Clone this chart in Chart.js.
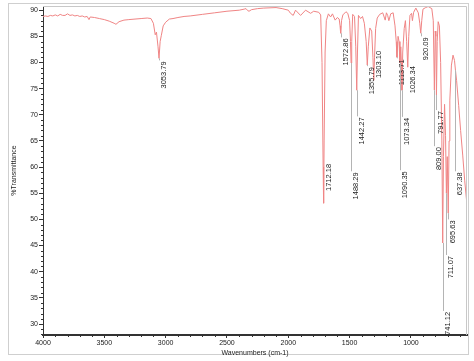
<!DOCTYPE html>
<html>
<head>
<meta charset="utf-8">
<script src="https://cdn.jsdelivr.net/npm/chart.js@4.4.1/dist/chart.umd.min.js"></script>
<style>
  html, body { margin: 0; padding: 0; background: #fff; }
</style>
</head>
<body>
<canvas id="irChart" width="474" height="361"></canvas>
<script>
// spectrum (wavenumber cm-1, %T)
const wavenumbers = [4000, 3980, 3960, 3940, 3920, 3900, 3880, 3860, 3840, 3820, 3800, 3780, 3760, 3740, 3720, 3700, 3680, 3660, 3640, 3625, 3615, 3580, 3540, 3500, 3460, 3420, 3405, 3380, 3340, 3300, 3250, 3200, 3150, 3120, 3100, 3085, 3075, 3062, 3054, 3045, 3035, 3020, 3000, 2970, 2940, 2900, 2850, 2800, 2700, 2600, 2500, 2400, 2360, 2345, 2330, 2320, 2300, 2250, 2200, 2100, 2050, 2000, 1982, 1960, 1941, 1900, 1859, 1818, 1793, 1752, 1736, 1725, 1716, 1712, 1708, 1700, 1690, 1673, 1655, 1640, 1618, 1600, 1585, 1578, 1573, 1566, 1555, 1530, 1515, 1500, 1493, 1488, 1483, 1475, 1460, 1450, 1442, 1436, 1428, 1410, 1395, 1380, 1365, 1356, 1348, 1335, 1320, 1310, 1303, 1297, 1288, 1275, 1255, 1230, 1210, 1200, 1190, 1180, 1165, 1145, 1130, 1120, 1114, 1105, 1097, 1090, 1083, 1078, 1073, 1067, 1055, 1045, 1035, 1026, 1018, 1008, 995, 988, 978, 960, 940, 928, 920, 912, 902, 880, 860, 845, 830, 818, 809, 802, 797, 792, 786, 778, 768, 758, 748, 741, 735, 726, 718, 711, 704, 696, 689, 683, 670, 657, 645, 637, 628, 611, 595, 578, 562, 543];
const transmittance = [88.8, 88.9, 88.8, 89.0, 88.9, 89.1, 88.9, 89.2, 89.0, 89.0, 89.3, 89.0, 89.1, 88.9, 89.0, 88.8, 88.9, 88.7, 88.8, 88.2, 88.7, 88.6, 88.4, 88.2, 87.9, 87.5, 87.3, 87.8, 88.1, 88.2, 88.3, 88.4, 88.5, 88.4, 87.5, 85.3, 85.8, 83.0, 80.8, 84.0, 85.2, 87.0, 87.7, 88.3, 88.4, 88.6, 88.8, 88.9, 89.2, 89.5, 89.8, 90.0, 90.2, 90.3, 89.9, 89.8, 90.1, 90.3, 90.4, 90.5, 90.3, 90.0, 89.4, 89.0, 90.0, 89.0, 90.0, 89.4, 89.8, 89.6, 89.1, 80.0, 60.0, 53.1, 65.0, 82.0, 88.0, 89.3, 88.7, 89.3, 88.1, 88.6, 88.3, 87.0, 85.6, 88.0, 89.1, 89.7, 89.4, 88.0, 84.0, 79.9, 84.0, 89.2, 88.8, 83.0, 74.7, 82.0, 89.0, 88.4, 88.8, 87.5, 84.0, 79.5, 83.0, 86.6, 86.0, 81.0, 76.6, 81.0, 86.5, 88.5, 89.2, 89.5, 88.1, 89.5, 89.0, 88.0, 89.3, 89.5, 87.0, 84.0, 81.0, 85.0, 84.0, 79.9, 83.0, 80.0, 74.7, 82.0, 86.5, 88.0, 84.0, 79.1, 85.0, 89.0, 89.4, 88.0, 89.6, 90.4, 89.5, 87.5, 85.6, 88.0, 90.2, 90.5, 90.7, 90.5, 90.3, 88.0, 74.7, 86.0, 85.0, 73.8, 84.0, 87.8, 87.0, 80.0, 65.0, 45.5, 62.0, 72.0, 66.0, 55.0, 62.0, 51.2, 65.0, 72.8, 79.5, 81.4, 80.4, 78.5, 76.6, 71.8, 67.0, 62.3, 57.5, 52.7];

// peak labels: position, depth of the peak, level where the label starts
const peakWn = [3053.79, 1712.18, 1572.86, 1488.29, 1442.27, 1355.79, 1303.10, 1113.71, 1090.35, 1073.34, 1026.34, 920.09, 809.00, 791.77, 741.12, 711.07, 695.63, 637.38];
const peakT = [80.8, 53.1, 85.6, 79.9, 74.7, 79.5, 76.6, 81.0, 79.9, 74.7, 79.1, 85.6, 74.7, 73.8, 45.5, 55.0, 51.2, 78.5];
const labelT = [80.4, 60.8, 84.8, 59.2, 69.7, 79.3, 82.4, 80.8, 59.4, 69.6, 79.5, 85.0, 64.0, 70.9, 32.5, 43.2, 50.0, 59.2];

// axis ticks
const xTicks = [4000, 3500, 3000, 2500, 2000, 1500, 1000];
const yTicks = [30, 35, 40, 45, 50, 55, 60, 65, 70, 75, 80, 85, 90];

const FONT = '"Liberation Sans", Arial, sans-serif';

const spectrumDecor = {
    id: 'spectrumDecor',
    beforeDraw(chart) {
        const c = chart.ctx;
        c.save();
        c.fillStyle = '#fff';
        c.fillRect(0, 0, chart.width, chart.height);
        c.strokeStyle = '#cfcfcf';
        c.lineWidth = 1;
        c.strokeRect(8.5, 3.5, 460, 351);
        c.restore();
    },
    afterDraw(chart) {
        const c = chart.ctx;
        const a = chart.chartArea;
        const x = chart.scales.x, y = chart.scales.y;
        c.save();
        // thin grey frame on top and right of the plot
        c.strokeStyle = '#c8c8c8';
        c.lineWidth = 1;
        c.beginPath();
        c.moveTo(a.left, a.top + 0.5);
        c.lineTo(a.right - 0.5, a.top + 0.5);
        c.lineTo(a.right - 0.5, a.bottom);
        c.stroke();

        // minor ticks
        c.strokeStyle = '#333';
        c.beginPath();
        for (let v = 28; v <= 90; v++) {
            if (v % 5 === 0) continue;
            const py = Math.round(y.getPixelForValue(v)) + 0.5;
            c.moveTo(a.left - 2, py);
            c.lineTo(a.left, py);
        }
        for (let v = 600; v <= 4000; v += 100) {
            if (v % 500 === 0) continue;
            const px = Math.round(x.getPixelForValue(v)) + 0.5;
            c.moveTo(px, a.bottom);
            c.lineTo(px, a.bottom + 2);
        }
        c.stroke();

        // peak labels with leader lines
        c.font = '7.5px ' + FONT;
        c.textAlign = 'right';
        c.textBaseline = 'middle';
        peakWn.forEach((wn, i) => {
            const px = Math.round(x.getPixelForValue(wn)) + 0.5;
            const top = y.getPixelForValue(labelT[i]);
            const bot = y.getPixelForValue(peakT[i]);
            if (top - bot > 1) {
                c.strokeStyle = '#b4b4b4';
                c.beginPath();
                c.moveTo(px, bot);
                c.lineTo(px, top);
                c.stroke();
            }
            c.save();
            c.translate(px + 4.5, top + 1);
            c.rotate(-Math.PI / 2);
            c.fillStyle = '#222';
            c.fillText(wn.toFixed(2), 0, 0);
            c.restore();
        });
        c.restore();
    }
};

const ctx = document.getElementById('irChart').getContext('2d');
new Chart(ctx, {
    type: 'line',
    data: {
        datasets: [{
            data: wavenumbers.map((w, i) => ({ x: w, y: transmittance[i] })),
            borderColor: '#f08585',
            borderWidth: 1,
            pointRadius: 0,
            tension: 0,
            fill: false
        }]
    },
    options: {
        responsive: false,
        animation: false,
        layout: {
            padding: { left: 8, right: 7, top: 6, bottom: 2 }
        },
        scales: {
            x: {
                type: 'linear',
                reverse: true,
                min: 543,
                max: 4000,
                afterFit: s => { s.height = 24; },
                afterBuildTicks: s => { s.ticks = xTicks.map(v => ({ value: v })); },
                ticks: {
                    autoSkip: false,
                    maxRotation: 0,
                    padding: 1,
                    color: '#222',
                    font: { family: FONT, size: 7 },
                    callback: v => String(v)
                },
                grid: { drawOnChartArea: false, tickLength: 3, tickColor: '#333' },
                border: { color: '#333', width: 2 },
                title: {
                    display: true,
                    text: 'Wavenumbers (cm-1)',
                    color: '#222',
                    font: { family: FONT, size: 7 },
                    padding: { top: 0, bottom: 2 }
                }
            },
            y: {
                min: 27.9,
                max: 90.8,
                afterFit: s => { s.width = 35; },
                afterBuildTicks: s => { s.ticks = yTicks.map(v => ({ value: v })); },
                ticks: {
                    padding: 1,
                    color: '#222',
                    font: { family: FONT, size: 7 },
                    callback: v => String(v)
                },
                grid: { drawOnChartArea: false, tickLength: 4, tickColor: '#333' },
                border: { color: '#333', width: 1 },
                title: {
                    display: true,
                    text: '%Transmittance',
                    color: '#222',
                    font: { family: FONT, size: 7 },
                    padding: { top: 2, bottom: 0 }
                }
            }
        },
        plugins: {
            legend: { display: false },
            tooltip: { enabled: false }
        }
    },
    plugins: [spectrumDecor]
});
</script>
</body>
</html>
